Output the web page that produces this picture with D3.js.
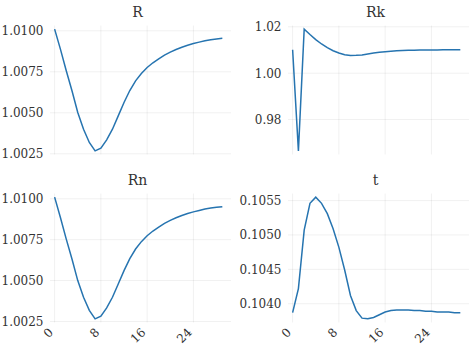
<html>
<head>
  <meta charset="utf-8" />
  <script src="https://cdnjs.cloudflare.com/ajax/libs/d3/7.8.5/d3.min.js"></script>
  <style>
    body { margin: 0; background: #fff; }
    .grid line { stroke: #000; stroke-opacity: 0.06; stroke-width: 1; }
  </style>
</head>
<body>
  <svg width="474" height="351"></svg>
  <script>
    var periods = d3.range(30)
    var xTicks = [0, 8, 16, 24]

    var R = [1.0101, 1.00888, 1.00758, 1.00634, 1.00502, 1.00400, 1.00319, 1.00268, 1.00285, 1.00335,
             1.00400, 1.00481, 1.00563, 1.00636, 1.00695, 1.00740, 1.00776, 1.00805, 1.00829, 1.00852,
             1.00870, 1.00886, 1.00900, 1.00912, 1.00922, 1.00931, 1.00939, 1.00945, 1.00950, 1.00954]
    var Rk = [1.0101, 0.9665, 1.0190, 1.0167, 1.0145, 1.0126, 1.0110, 1.0097, 1.0087, 1.0080,
              1.0076, 1.0077, 1.0079, 1.0083, 1.0087, 1.0090, 1.0093, 1.0095, 1.0097, 1.0098,
              1.0099, 1.0099, 1.0100, 1.0100, 1.0100, 1.0100, 1.0101, 1.0101, 1.0101, 1.0101]
    var Rn = [1.0101, 1.00886, 1.00755, 1.00632, 1.00500, 1.00398, 1.00318, 1.00266, 1.00283, 1.00333,
              1.00398, 1.00479, 1.00561, 1.00634, 1.00693, 1.00738, 1.00774, 1.00803, 1.00827, 1.00850,
              1.00868, 1.00884, 1.00898, 1.00910, 1.00920, 1.00929, 1.00937, 1.00943, 1.00948, 1.00952]
    var t = [0.10387, 0.10422, 0.10507, 0.10546, 0.10555, 0.10546, 0.10531, 0.10509, 0.10482, 0.10449,
             0.10412, 0.10390, 0.10379, 0.10378, 0.10380, 0.10384, 0.10388, 0.10390, 0.10391, 0.10391,
             0.10391, 0.10390, 0.10390, 0.10389, 0.10389, 0.10388, 0.10388, 0.10388, 0.10387, 0.10387]

    var names = ["R", "Rk", "Rn", "t"]
    var series = [R, Rk, Rn, t]
    var yTicks = [
      [1.0025, 1.0050, 1.0075, 1.0100],
      [0.98, 1.00, 1.02],
      [1.0025, 1.0050, 1.0075, 1.0100],
      [0.1040, 0.1045, 0.1050, 0.1055]
    ]
    var yFormats = [".4f", ".2f", ".4f", ".4f"]

    // plot boxes: [left, top, right, bottom]
    var boxes = [
      [50, 25.5, 231, 154.5],
      [288, 25.5, 469, 154.5],
      [50, 193.5, 231, 322.5],
      [288, 193.5, 469, 322.5]
    ]

    var serif = "'DejaVu Serif', serif"
    var svg = d3.select("svg")

    series.forEach(function(vals, i) {
      var b = boxes[i]
      var x = d3.scaleLinear().domain([-0.8, 30.5]).range([b[0], b[2]])
      var ext = d3.extent(vals)
      var pad = (ext[1] - ext[0]) * 0.03
      var y = d3.scaleLinear().domain([ext[0] - pad, ext[1] + pad]).range([b[3], b[1]])

      var g = svg.append("g")
        .attr("font-family", serif)
        .attr("fill", "#333")
      var grid = g.append("g").attr("class", "grid")
      grid.selectAll("line.v").data(xTicks).enter().append("line")
        .attr("x1", d => x(d)).attr("x2", d => x(d))
        .attr("y1", b[1]).attr("y2", b[3])
      grid.selectAll("line.h").data(yTicks[i]).enter().append("line")
        .attr("x1", b[0]).attr("x2", b[2])
        .attr("y1", d => y(d)).attr("y2", d => y(d))

      g.selectAll("text.yt").data(yTicks[i]).enter().append("text")
        .attr("x", b[0] - 6.5).attr("y", d => y(d))
        .attr("dy", "0.36em")
        .attr("text-anchor", "end")
        .style("font-size", "12px")
        .text(d => d3.format(yFormats[i])(d))

      if (i >= 2) {
        g.selectAll("text.xt").data(xTicks).enter().append("text")
          .attr("transform", d => "translate(" + (x(d) - 0.8) + "," + (b[3] + 10.5) + ") rotate(-45)")
          .attr("text-anchor", "end")
          .style("font-size", "12px")
          .text(d => d)
      }

      g.append("text")
        .attr("x", (b[0] + b[2]) / 2 - 3)
        .attr("y", b[1] - 8.5)
        .attr("text-anchor", "middle")
        .style("font-size", "14px")
        .text(names[i])

      var line = d3.line().x((d, j) => x(periods[j])).y(d => y(d))
      g.append("path")
        .datum(vals)
        .attr("d", line)
        .attr("fill", "none")
        .attr("stroke", "#2674b0")
        .attr("stroke-width", 1.5)
    })
  </script>
</body>
</html>
